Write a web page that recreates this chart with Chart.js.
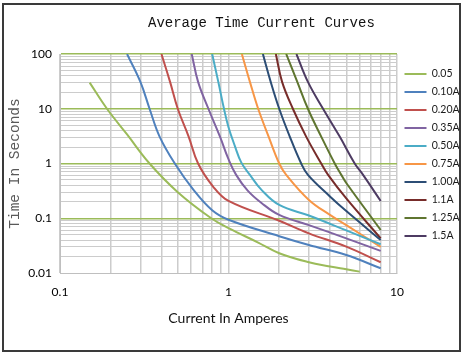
<!DOCTYPE html>
<html>
<head>
<meta charset="utf-8">
<script src="https://cdn.jsdelivr.net/npm/chart.js@4.4.1/dist/chart.umd.min.js"></script>
<style>
html,body{margin:0;padding:0;background:#fff;}
#wrap{position:relative;width:464px;height:356px;overflow:hidden;}
#c{position:absolute;left:0;top:0;}
#frame{position:absolute;left:2px;top:3px;width:455px;height:345px;border:2px solid #3a3a3a;pointer-events:none;}
</style>
</head>
<body>
<div id="wrap"><canvas id="c" width="464" height="356"></canvas><div id="frame"></div></div>
<script>
// ---- data (current in amperes, time in seconds) ----
const seriesLabels = ['0.05','0.10A','0.20A','0.35A','0.50A','0.75A','1.00A','1.1A','1.25A','1.5A'];

const curve005 = [[0.15,30],[0.19,10],[0.25,3.4],[0.34,1],[0.5,0.3],[0.79,0.1],[1,0.066],[1.5,0.036],[2,0.023],[3,0.0157],[4,0.0132],[5,0.0117],[6,0.0106]];
const curve010 = [[0.25,100],[0.3,31],[0.34,10],[0.39,3.1],[0.48,1],[0.62,0.33],[0.8,0.14],[1,0.094],[2,0.047],[3,0.0325],[5,0.0213],[8,0.0122]];
const curve020 = [[0.4,100],[0.45,31],[0.5,10],[0.58,3.1],[0.66,1],[0.81,0.38],[1,0.207],[2,0.09],[3,0.053],[5,0.0303],[8,0.0157]];
const curve035 = [[0.605,100],[0.66,31],[0.76,10],[0.89,3.1],[1,1.2],[1.11,0.62],[1.3,0.32],[1.57,0.19],[2,0.115],[3,0.075],[5,0.043],[8,0.0253]];
const curve050 = [[0.8,100],[0.87,31],[0.94,10],[1.0,4.6],[1.09,2.1],[1.19,1.05],[1.34,0.62],[1.57,0.33],[2,0.175],[3,0.112],[5,0.06],[8,0.0335]];
const curve075 = [[1.2,100],[1.34,31],[1.5,10],[1.73,3.1],[2.0,1],[2.2,0.62],[3,0.216],[4,0.115],[5,0.075],[8,0.030]];
const curve100 = [[1.6,100],[1.78,31],[2.0,10],[2.31,3.1],[2.7,1],[2.96,0.62],[4,0.25],[5,0.135],[8,0.040]];
const curve110 = [[1.91,100],[2.08,31],[2.41,10],[2.89,3.1],[3.55,1],[3.9,0.62],[5,0.23],[8,0.043]];
const curve125 = [[2.2,100],[2.56,31],[2.96,10],[3.55,3.1],[4.27,1],[4.67,0.62],[5,0.44],[8,0.061]];
const curve150 = [[2.53,100],[2.96,31],[3.64,10],[4.57,3.1],[5.61,1],[6.29,0.62],[8,0.207]];

const curves = [curve005, curve010, curve020, curve035, curve050, curve075, curve100, curve110, curve125, curve150];

// ---- axes ----
const xGridValues = [0.1,0.2,0.3,0.4,0.5,0.6,0.7,0.8,0.9,1,2,3,4,5,6,7,8,9,10];
const xLabelValues = [0.1,1,10];
const xTickLabels = ['0.1','1','10'];
const yGridValues = [0.01,0.02,0.03,0.04,0.05,0.06,0.07,0.08,0.09,0.1,0.2,0.3,0.4,0.5,0.6,0.7,0.8,0.9,1,2,3,4,5,6,7,8,9,10,20,30,40,50,60,70,80,90,100];
const yLabelValues = [0.01,0.1,1,10,100];
const yTickLabels = ['0.01','0.1','1','10','100'];
const yGreenLines = [0.1,1,10,100];

// ---- styles ----
const seriesColors = ['#9BBB59','#4F81BD','#C0504D','#8064A2','#4BACC6','#F79646','#2C4D75','#772C2A','#5F7530','#4D3B62'];
const gridGray = '#cccccc';
const gridGreen = '#9BBB59';

const datasets = seriesLabels.map((lab, i) => ({
  label: lab,
  data: curves[i].map(p => ({x: p[0], y: p[1]})),
  borderColor: seriesColors[i],
  backgroundColor: seriesColors[i],
  borderWidth: 2,
  pointRadius: 0,
  pointHoverRadius: 0,
  fill: false,
  tension: 0.4
}));

new Chart(document.getElementById('c'), {
  type: 'line',
  data: { datasets },
  options: {
    responsive: false,
    animation: false,
    devicePixelRatio: 1,
    layout: { padding: 0 },
    plugins: {
      tooltip: { enabled: false },
      title: {
        display: true,
        text: '       Average Time Current Curves',
        color: '#111111',
        font: { family: 'Liberation Mono', size: 14, weight: 'normal', lineHeight: 1.2 },
        padding: { top: 14.6, bottom: 22.6 }
      },
      legend: {
        position: 'right',
        align: 'start',
        maxWidth: 67,
        title: { display: true, text: '', font: { size: 10, lineHeight: 1 }, padding: { top: 51.25, bottom: 0 } },
        labels: {
          usePointStyle: true,
          pointStyle: 'line',
          pointStyleWidth: 22,
          color: '#1a1a1a',
          font: { family: 'Lato', size: 10.5 },
          padding: 7.5
        }
      }
    },
    scales: {
      x: {
        type: 'logarithmic',
        min: 0.1,
        max: 10,
        afterBuildTicks: s => { s.ticks = xGridValues.map(v => ({ value: v })); },
        afterFit: s => { s.height = 83; },
        ticks: {
          autoSkip: false, maxRotation: 0, minRotation: 0, padding: 12,
          color: '#000000', font: { family: 'Lato', size: 12 },
          callback: v => { const k = xLabelValues.indexOf(v); return k >= 0 ? xTickLabels[k] : ''; }
        },
        grid: { drawTicks: false, color: gridGray, lineWidth: 1.5 },
        border: { color: '#bfbfbf', width: 1 },
        title: {
          display: true, text: 'Current In Amperes', color: '#111111',
          font: { family: 'Lato', size: 14 }, padding: { top: 0, bottom: 29.6 }
        }
      },
      y: {
        type: 'logarithmic',
        min: 0.01,
        max: 100,
        afterBuildTicks: s => { s.ticks = yGridValues.map(v => ({ value: v })); },
        afterFit: s => { s.width = 60; },
        ticks: {
          autoSkip: false, padding: 8,
          color: '#000000', font: { family: 'Lato', size: 12 },
          callback: v => { const k = yLabelValues.indexOf(v); return k >= 0 ? yTickLabels[k] : ''; }
        },
        grid: {
          drawTicks: false,
          color: c => (c.tick && yGreenLines.includes(c.tick.value)) ? gridGreen : gridGray,
          lineWidth: c => (c.tick && yGreenLines.includes(c.tick.value)) ? 1.5 : 1
        },
        border: { color: '#bfbfbf', width: 1 },
        title: {
          display: true, text: 'Time In Seconds', color: '#595959',
          font: { family: 'Liberation Mono', size: 14.5 }, padding: { top: 6.3, bottom: 0 }
        }
      }
    }
  }
});
</script>
</body>
</html>
